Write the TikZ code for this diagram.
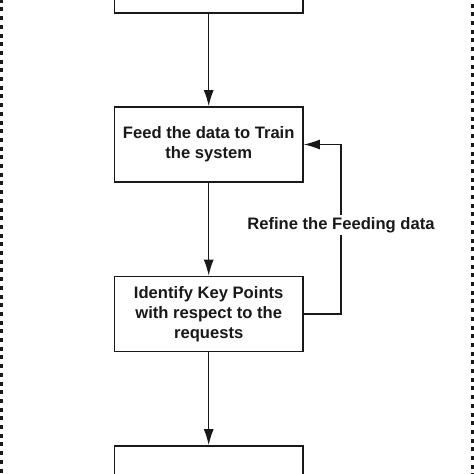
\documentclass[tikz,border=0pt]{standalone}
\usepackage{fontspec}
\setmainfont{Liberation Sans}
\usetikzlibrary{arrows.meta}
\begin{document}
\begin{tikzpicture}[x=1pt,y=-1pt,
  stepbox/.style={draw=black!90,line width=1.8pt,minimum width=188.5pt,minimum height=75pt,
    inner sep=0pt,align=center,font=\fontsize{16.6pt}{20pt}\selectfont\bfseries,text=black!90},
  flow/.style={draw=black!90,line width=1.1pt,-{Latex[length=16pt,width=10pt]}},
  lbl/.style={fill=white,inner sep=2pt,font=\fontsize{16.6pt}{20pt}\selectfont\bfseries,text=black!90}]
\useasboundingbox (0,0) rectangle (474,474);
\clip (0,0) rectangle (474,474);
\fill[white] (0,0) rectangle (474,474);
\draw[black!90,line width=3pt,dash pattern=on 4pt off 4.7pt] (1.5,-10) rectangle (472,490);
\node[stepbox] (b1) at (208.7,-24.5) {};
\node[stepbox] (b2) at (208.7,144.5) {Feed the data to Train\\the system};
\node[stepbox] (b3) at (208.7,314) {Identify Key Points\\with respect to the\\requests};
\node[stepbox] (b4) at (208.7,483.5) {};
\coordinate (c1) at (341,314);
\coordinate (c2) at (341,144.5);
\draw[flow] (b1) -- (b2);
\draw[flow] (b2) -- (b3);
\draw[flow] (b3) -- (b4);
\draw[flow] (b3.east) -- (c1) -- (c2) -- (b2.east);
\node[lbl] (l1) at (341,225) {Refine the Feeding data};
\end{tikzpicture}
\end{document}
